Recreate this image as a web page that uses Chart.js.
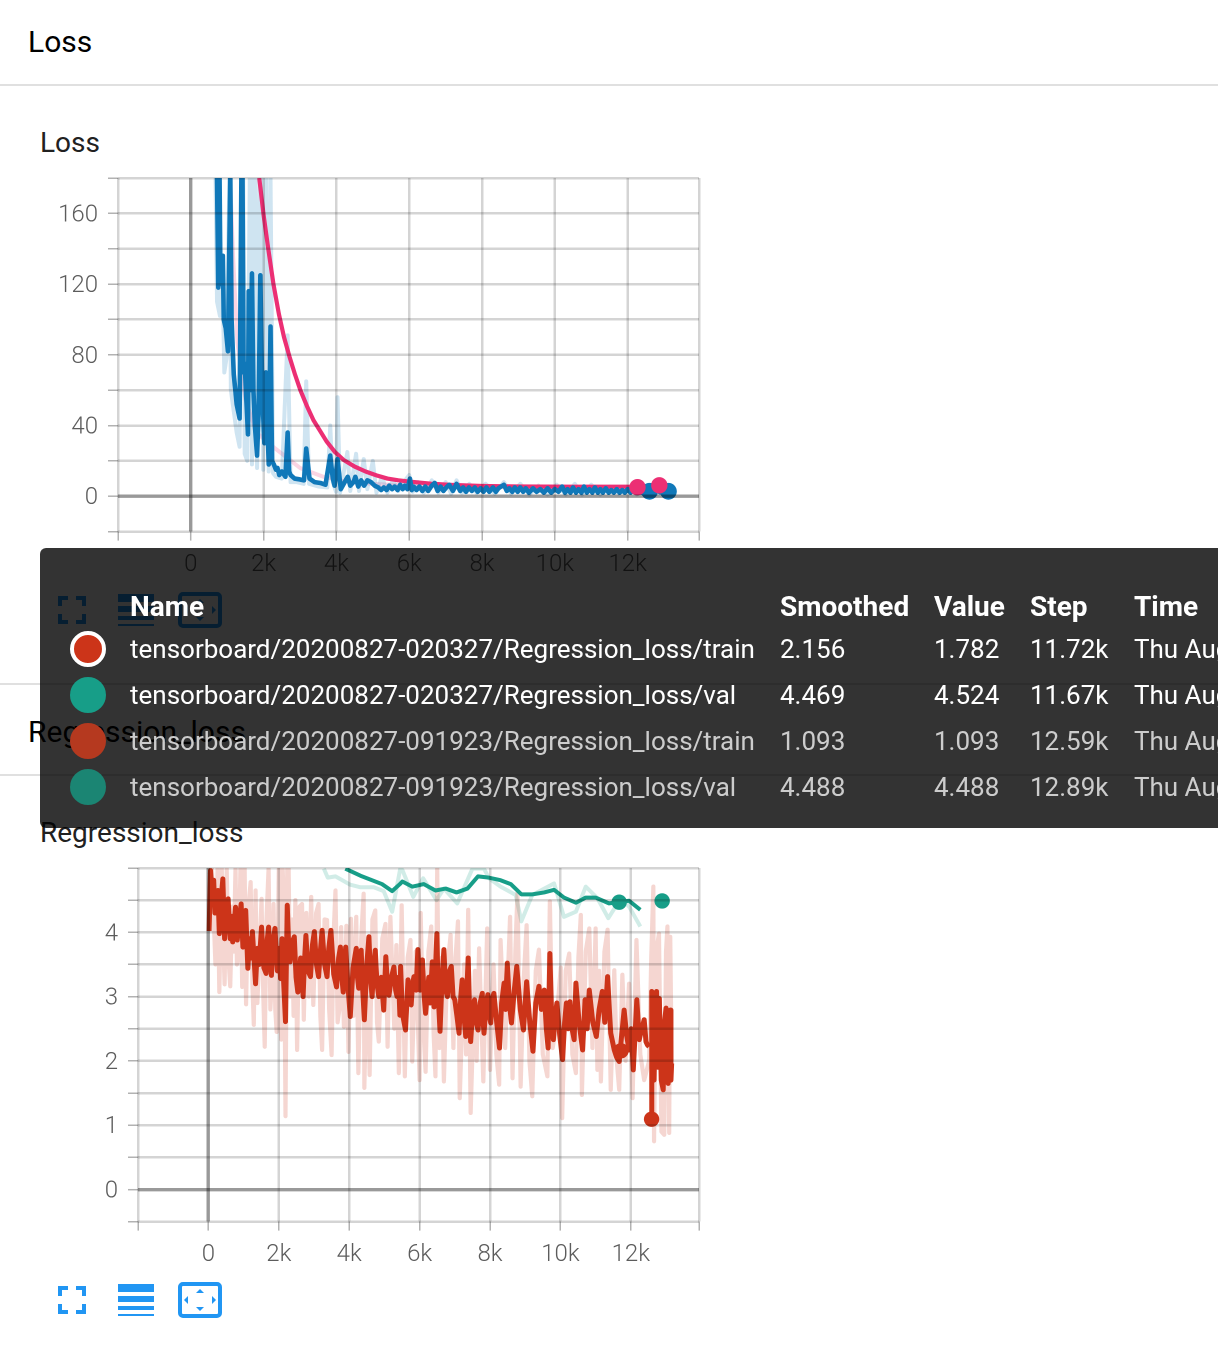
<!DOCTYPE html>
<html><head><meta charset="utf-8">
<script src="https://cdn.jsdelivr.net/npm/chart.js@4"></script>
<style>
html,body{margin:0;padding:0;background:#fff;width:1218px;height:1352px;overflow:hidden;font-family:Roboto,sans-serif;color:#000}
.abs{position:absolute;white-space:nowrap}
.rule{position:absolute;left:0;width:1218px;height:2px;background:#e0e0e0}
.h1{font-size:30px;line-height:34px}
.h2{font-size:28px;line-height:32px;color:#212121}
canvas{position:absolute;left:0}
#tip{position:absolute;left:40px;top:548px;width:1200px;height:280px;background:rgba(0,0,0,.8);border-radius:6px;color:#fff;font-size:26px;z-index:5}
#tip .c{position:absolute;white-space:nowrap;line-height:30px}
#tip .b{font-weight:700;font-size:28px}
#tip .m{position:absolute;left:30px;width:36px;height:36px;border-radius:50%;box-sizing:border-box}
</style></head><body>
<div class="abs h1" style="left:28px;top:25px">Loss</div>
<div class="rule" style="top:84px"></div>
<div class="abs h2" style="left:40px;top:127px">Loss</div>
<canvas id="lossChart" width="720" height="430" style="top:160px"></canvas>
<svg class="icons" style="position:absolute;left:0;top:590px" width="240" height="42" viewBox="0 0 240 42"><use href="#ico"/></svg>
<div class="rule" style="top:683px"></div>
<div class="abs h1" style="left:28px;top:715px">Regression_loss</div>
<div class="rule" style="top:774px"></div>
<div class="abs h2" style="left:40px;top:817px">Regression_loss</div>
<canvas id="regChart" width="720" height="430" style="top:850px"></canvas>
<svg style="position:absolute;left:0;top:1280px" width="240" height="42" viewBox="0 0 240 42">
<g id="ico" fill="#2196f3">
<path d="M58 6h10v4h-6v6h-4zM76 6h10v10h-4v-6h-6zM58 24h4v6h6v4h-10zM82 24h4v10h-10v-4h6z"/>
<rect x="118" y="4" width="36" height="8"/><rect x="118" y="16" width="36" height="6"/><rect x="118" y="26" width="36" height="4"/><rect x="118" y="34" width="36" height="2"/>
<rect x="180" y="4" width="40" height="32" rx="3" fill="none" stroke="#2196f3" stroke-width="4"/>
<path d="M200 9l4 4h-8zM200 31l-4-4h8zM184 20l4-4v8zM216 20l-4-4v8z"/>
</g></svg>
<div id="tip"></div>
<script>
const seriesNames=["tensorboard/20200827-020327/Regression_loss/train","tensorboard/20200827-020327/Regression_loss/val","tensorboard/20200827-091923/Regression_loss/train","tensorboard/20200827-091923/Regression_loss/val"];
const smoothedCol=["2.156","4.469","1.093","4.488"];
const valueCol=["1.782","4.524","1.093","4.488"];
const stepCol=["11.72k","11.67k","12.59k","12.89k"];
const timeCol=["Thu Aug","Thu Aug","Thu Aug","Thu Aug"];
const headers=["Name","Smoothed","Value","Step","Time"];
const xTickValues=[-2000,0,2000,4000,6000,8000,10000,12000];
const lossYLabels=[160,120,80,40,0];
const regYLabels=[4,3,2,1,0];

const pinkSmooth=[[1880,180],[2000,159],[2120,141],[2270,120],[2420,103],[2560,90],[2710,79],[2860,69],[3010,60],[3190,51],[3370,43],[3550,37],[3730,31],[3960,25],[4200,20.5],[4500,16.8],[4800,14],[5100,11.8],[5400,10],[5700,9],[6000,8.3],[6600,7.1],[7200,6.4],[8000,5.8],[9000,5.5],[10500,5.4],[12000,5.4],[12270,5.2]];
const pinkRaw=[[1080,180],[1160,136],[1280,87],[1500,55],[1800,36],[2320,27],[3000,16],[3640,11],[4200,8.5],[5000,7],[6000,6],[8000,5.5],[10000,5],[12270,5]];
const blueSmooth=[[720,180],[755,118],[790,180],[815,120],[880,136],[905,100],[960,95],[1020,82],[1085,182],[1120,100],[1180,69],[1260,52],[1300,48],[1340,44],[1390,182],[1420,182],[1450,70],[1480,75],[1570,35],[1590,116],[1630,60],[1680,126],[1720,60],[1760,40],[1820,23],[1860,45],[1910,125],[1960,60],[2020,30],[2060,70],[2140,18],[2190,96],[2230,20],[2280,18],[2340,15],[2380,16],[2430,12],[2500,14],[2600,11],[2660,36],[2700,14],[2740,12],[2850,10],[3000,9.5],[3110,9],[3170,27],[3260,10],[3400,8],[3560,7.5],[3700,6.5],[3830,23],[3900,10],[3950,6],[4030,21],[4120,4],[4200,7],[4310,11],[4380,6],[4470,8],[4520,11],[4600,5.5],[4680,9],[4760,6],[4850,9],[4950,8],[5050,6],[5150,5],[5230,3.5],[5300,5],[5380,3.5],[5450,6],[5530,4],[5600,5.5],[5680,3.5],[5750,6.5],[5820,4],[5880,6],[5950,4],[6020,10],[6070,3.5],[6120,5.5],[6200,3.5],[6280,5.5],[6360,3],[6440,5.5],[6520,3],[6620,6],[6700,7.5],[6780,3],[6860,5.5],[6940,3],[7020,5],[7100,6.5],[7200,3],[7300,7],[7400,3],[7480,5],[7560,2.5],[7640,5],[7720,3],[7800,5],[7880,2.5],[7960,4.5],[8040,2.5],[8120,5],[8200,2.5],[8300,5],[8380,2.5],[8450,4.5],[8600,6.5],[8680,3],[8750,4.5],[8830,2.5],[8900,5],[8980,2.5],[9050,5],[9130,2.5],[9200,4.5],[9290,2],[9400,4.5],[9500,2.5],[9600,4],[9700,2],[9800,4.5],[9900,2],[10000,4],[10100,2.5],[10200,5.5],[10280,2],[10350,4],[10430,2],[10500,5],[10580,2],[10650,4],[10730,2],[10800,5.5],[10880,2],[10950,4],[11030,2],[11100,5],[11180,2],[11250,4],[11320,2],[11400,4.5],[11480,2],[11550,3.5],[11620,2],[11700,4],[11780,2],[11850,3.5],[11920,2],[12000,4],[12080,2],[12150,3.5],[12230,2],[12300,4],[12380,2],[12450,3.5],[12530,2.2],[12600,3],[12700,2],[12800,3.2],[12900,2.2],[13000,3.5],[13120,2.8]];
const blueRaw=[[680,180],[720,110],[800,102],[860,135],[920,70],[980,78],[1060,180],[1100,60],[1180,48],[1260,36],[1340,28],[1400,180],[1440,180],[1480,24],[1550,20],[1620,180],[1650,180],[1680,18],[1740,180],[1780,180],[1820,16],[1900,180],[1950,180],[1990,15],[2070,180],[2140,14],[2190,180],[2260,13],[2340,11],[2500,10],[2660,91],[2740,8],[2900,8],[3100,7],[3170,65],[3250,7],[3500,5.5],[3750,5],[3830,40],[3900,8],[3990,2.5],[4030,56],[4100,2],[4300,25],[4380,3],[4540,24],[4620,3],[4750,21],[4850,4],[5000,20],[5100,2],[5250,11],[5400,2],[5550,9],[5700,3],[5850,8],[6000,12],[6100,2.5],[6250,8],[6400,2],[6620,9],[6800,2],[7000,8],[7150,1.5],[7300,9],[7450,2],[7650,7],[7850,2],[8100,7],[8350,1.5],[8600,8],[8800,1.5],[9050,7],[9300,1],[9550,6],[9800,1],[10050,6.5],[10300,1],[10550,7],[10750,1],[11000,6.5],[11250,1],[11500,5.5],[11750,1.5],[12000,5],[12250,1],[12500,4.5],[12800,1.5],[13120,4]];
const pinkMarkers=[[12270,5.1],[12870,6.2]];
const blueMarkers=[[12600,2.8],[13120,2.8]];

const redSmooth=[[20,4.02],[60,4.96],[105,4.6],[150,4.81],[185,4.3],[220,4.44],[270,4.65],[310,3.98],[360,4.5],[410,4.83],[460,3.9],[510,4.35],[560,4.52],[620,3.9],[650,4.25],[690,3.85],[735,4.15],[770,4.39],[820,3.88],[875,4.2],[930,4.44],[980,3.77],[1020,4.1],[1060,4.34],[1120,3.44],[1170,3.9],[1210,3.6],[1250,4.01],[1340,3.2],[1390,3.75],[1440,3.5],[1510,4.08],[1575,3.45],[1640,3.36],[1675,3.9],[1710,4.08],[1790,3.33],[1840,3.85],[1890,4.06],[1960,3.4],[2010,3.75],[2050,3.28],[2090,3.9],[2140,3.2],[2190,2.61],[2240,4.42],[2280,3.8],[2320,3.54],[2380,3.85],[2440,3.93],[2490,3.3],[2540,3.07],[2620,3.6],[2690,3.0],[2730,3.55],[2770,3.95],[2830,3.4],[2900,3.31],[2955,3.8],[3010,4.01],[3070,3.5],[3130,3.31],[3180,3.7],[3230,4.03],[3300,3.5],[3370,3.31],[3420,3.75],[3480,4.03],[3560,3.35],[3640,3.15],[3700,3.6],[3750,3.77],[3790,3.3],[3830,3.07],[3865,3.5],[3900,3.77],[3960,3.2],[4030,2.69],[4110,3.45],[4200,3.75],[4235,3.3],[4270,3.13],[4305,3.5],[4340,3.72],[4385,3.1],[4430,2.64],[4500,3.5],[4560,3.93],[4605,3.3],[4650,3.0],[4700,3.5],[4740,3.72],[4790,3.2],[4840,3.0],[4910,3.3],[4980,2.79],[5040,3.62],[5085,3.2],[5130,3.02],[5200,3.3],[5270,3.46],[5320,3.1],[5360,3.0],[5400,3.3],[5440,2.71],[5460,3.47],[5510,2.74],[5600,2.48],[5670,3.26],[5720,2.9],[5760,2.87],[5800,3.2],[5840,3.31],[5900,3.1],[5950,3.73],[6010,3.1],[6080,3.57],[6130,3.0],[6170,2.74],[6260,3.3],[6300,2.9],[6360,3.54],[6410,2.84],[6450,3.4],[6490,3.98],[6530,3.0],[6580,2.46],[6640,3.3],[6690,3.73],[6740,3.1],[6790,3.0],[6850,3.4],[6900,3.47],[6950,3.0],[7000,2.95],[7060,2.7],[7120,2.43],[7170,3.0],[7210,3.26],[7260,2.7],[7310,2.38],[7350,3.2],[7380,3.6],[7420,2.8],[7450,2.3],[7510,2.8],[7560,2.95],[7610,2.6],[7660,2.48],[7720,2.9],[7780,3.05],[7805,2.6],[7830,2.43],[7890,2.9],[7940,3.03],[7980,2.7],[8020,2.59],[8060,2.95],[8110,3.05],[8190,2.6],[8270,2.2],[8330,2.9],[8400,3.21],[8440,2.8],[8490,3.52],[8550,2.9],[8610,2.59],[8690,3.1],[8760,3.47],[8860,2.8],[8950,2.48],[9000,2.9],[9040,3.23],[9130,2.6],[9220,2.15],[9300,2.9],[9390,3.16],[9460,2.8],[9540,3.1],[9600,2.5],[9650,2.2],[9700,3.67],[9750,2.7],[9800,2.33],[9850,2.7],[9900,2.9],[9980,2.4],[10060,2.02],[10120,2.6],[10170,2.9],[10220,2.5],[10270,2.92],[10330,2.5],[10390,2.33],[10440,3.21],[10530,2.6],[10630,2.17],[10670,2.6],[10700,2.95],[10760,2.5],[10820,3.1],[10920,2.6],[11020,2.38],[11100,2.8],[11190,3.08],[11260,2.6],[11340,3.31],[11390,2.8],[11430,2.43],[11530,2.17],[11600,2.05],[11670,1.99],[11740,2.4],[11810,2.79],[11880,2.4],[11950,2.17],[12010,2.5],[12070,1.86],[12120,2.4],[12170,2.95],[12240,2.33],[12310,2.5],[12380,2.64],[12430,2.3],[12470,2.25],[12520,2.22]];
const redSmoothB=[[12590,1.093],[12595,3.08],[12630,2.2],[12660,1.7],[12695,2.7],[12730,3.08],[12770,1.9],[12810,2.97],[12865,1.7],[12920,1.55],[12960,2.6],[13000,2.82],[13030,1.8],[13060,1.65],[13090,2.7],[13120,2.79],[13140,1.7],[13160,1.96]];
const redRaw=[[30,4.9],[100,4.99],[200,3.5],[260,4.99],[310,3.07],[380,4.99],[420,3.9],[460,3.19],[520,4.99],[570,3.6],[620,3.16],[680,4.4],[720,3.7],[770,4.99],[810,3.5],[860,3.6],[910,4.99],[960,3.15],[1030,4.99],[1070,2.88],[1120,4.3],[1200,4.78],[1250,3.2],[1290,2.56],[1340,4.65],[1390,2.9],[1430,3.4],[1510,4.52],[1560,3.0],[1600,2.22],[1650,4.2],[1710,4.99],[1760,2.8],[1800,3.2],[1850,4.44],[1900,2.8],[1940,2.45],[2000,4.99],[2030,3.2],[2070,2.33],[2110,4.99],[2150,4.3],[2190,1.14],[2240,4.99],[2280,4.99],[2320,3.0],[2370,4.2],[2420,2.7],[2470,4.5],[2520,2.17],[2590,4.4],[2660,4.44],[2710,2.64],[2780,4.3],[2850,3.0],[2920,4.55],[2980,2.87],[3060,4.3],[3130,4.44],[3180,2.7],[3230,2.17],[3300,4.2],[3370,4.19],[3430,2.8],[3500,2.09],[3560,4.0],[3610,4.65],[3670,2.6],[3720,2.8],[3770,4.08],[3850,2.53],[3920,4.1],[3980,2.14],[4050,4.21],[4120,2.7],[4200,4.24],[4260,1.81],[4340,3.9],[4410,4.6],[4430,1.58],[4520,3.9],[4580,1.78],[4660,4.2],[4740,4.34],[4790,2.6],[4840,2.3],[4940,3.9],[5030,4.13],[5090,2.22],[5170,4.24],[5280,2.5],[5340,3.8],[5410,1.81],[5490,4.42],[5580,1.76],[5660,3.6],[5740,3.88],[5790,1.99],[5890,3.7],[6000,1.7],[6030,4.3],[6100,2.6],[6170,1.83],[6250,3.7],[6330,4.09],[6400,2.4],[6450,1.76],[6500,4.99],[6560,2.2],[6620,3.6],[6690,1.68],[6780,3.4],[6880,3.96],[6960,2.2],[7020,3.6],[7090,4.17],[7140,1.42],[7260,3.5],[7320,2.1],[7380,4.35],[7450,1.19],[7570,3.4],[7620,2.0],[7690,3.75],[7810,1.68],[7920,4.06],[8000,1.86],[8100,3.5],[8180,2.1],[8260,1.63],[8300,3.88],[8430,2.2],[8570,4.24],[8640,1.73],[8720,3.7],[8780,4.61],[8870,1.6],[8960,3.3],[9040,4.11],[9120,2.0],[9200,1.45],[9300,3.4],[9390,3.73],[9500,2.1],[9630,1.76],[9700,4.48],[9780,2.2],[9870,2.5],[10010,3.45],[10050,1.11],[10150,3.4],[10250,3.67],[10340,2.1],[10440,1.81],[10510,3.6],[10580,4.27],[10610,1.47],[10720,3.7],[10820,4.06],[10910,2.2],[11000,4.06],[11050,1.86],[11100,3.4],[11150,1.68],[11250,3.7],[11340,4.04],[11430,1.55],[11530,3.41],[11600,2.0],[11670,1.55],[11760,3.34],[11850,2.0],[11950,3.2],[12050,1.42],[12160,3.88],[12270,2.1],[12380,1.7],[12520,2.0],[12580,3.6],[12640,4.71],[12660,0.75],[12720,3.7],[12800,3.98],[12870,0.9],[12950,0.85],[13000,3.7],[13040,4.09],[13090,0.88],[13120,3.93],[13160,2.0]];
const tealSmooth=[[3890,4.99],[4320,4.88],[4930,4.75],[5220,4.64],[5440,4.75],[5510,4.79],[5790,4.71],[6120,4.75],[6450,4.65],[6740,4.68],[7050,4.62],[7360,4.68],[7660,4.87],[7970,4.85],[8300,4.81],[8590,4.75],[8890,4.59],[9200,4.59],[9540,4.62],[9820,4.66],[10100,4.54],[10440,4.46],[10720,4.54],[11000,4.54],[11380,4.45],[11670,4.47],[11950,4.49],[12270,4.35]];
const tealRaw=[[3280,4.99],[3390,4.85],[3610,4.87],[4030,4.74],[4320,4.7],[4700,4.7],[4980,4.64],[5220,4.32],[5450,4.99],[5510,4.97],[5820,4.55],[6100,4.84],[6480,4.5],[6690,4.68],[7070,4.45],[7500,4.99],[7830,4.99],[7970,4.84],[8300,4.71],[8730,4.58],[8890,4.17],[9200,4.58],[9820,4.76],[10100,4.24],[10440,4.32],[10720,4.71],[11050,4.53],[11360,4.22],[11720,4.53],[11950,4.4],[12270,4.09]];
const redMarkers=[[11720,2.156],[12590,1.093]];
const tealMarkers=[[11670,4.469],[12890,4.488]];

const PINK='#ec2f74',BLUE='#1078b9',RED='#cc3419',TEAL='#179e88';
const toXY=a=>a.map(p=>({x:p[0],y:p[1]}));
const line=(data,color,width)=>({type:'line',data:toXY(data),borderColor:color,borderWidth:width,pointRadius:0,tension:0,fill:false,borderJoinStyle:'round'});
const dots=(data,color,r)=>({type:'line',data:toXY(data),showLine:false,pointRadius:r,pointBackgroundColor:color,pointBorderWidth:0,clip:false});
const tickFont={family:'Roboto',size:24,weight:'300'};
const gridW=c=>c.tick&&c.tick.value===0?3.4:2.5;
const gridC=c=>c.tick&&c.tick.value===0?'rgba(0,0,0,.4)':'rgba(0,0,0,.17)';
function makeChart(id,datasets,o){
  new Chart(document.getElementById(id),{
    type:'line',data:{datasets},
    options:{responsive:false,animation:false,devicePixelRatio:2,
      layout:{padding:{top:18,right:21,left:0,bottom:0}},
      plugins:{legend:{display:false},tooltip:{enabled:false}},
      scales:{
        x:{type:'linear',min:-2000,max:o.xMax,
          afterBuildTicks:s=>{s.ticks=xTickValues.concat([o.xMax]).map(v=>({value:v}))},
          afterFit:s=>{s.height=58.4;s.paddingLeft=0;s.paddingRight=0},
          border:{display:false},
          grid:{z:1,lineWidth:gridW,color:gridC,tickLength:9,tickColor:'rgba(0,0,0,.3)',tickWidth:1.5},
          ticks:{autoSkip:false,maxRotation:0,padding:10,font:tickFont,color:'#5c5c5c',
            callback:v=>(v<0||v===o.xMax)?'':(v===0?'0':(v/1000)+'k')}},
        y:{min:o.yMin,max:o.yMax,
          afterFit:s=>{s.width=o.left;s.paddingTop=0;s.paddingBottom=0},
          border:{display:false},
          grid:{z:1,lineWidth:gridW,color:gridC,tickLength:10,tickColor:'rgba(0,0,0,.3)',tickWidth:1.5},
          ticks:{stepSize:o.yStep,autoSkip:false,padding:10,labelOffset:2,font:tickFont,color:'#5c5c5c',
            callback:v=>o.labels.includes(v)?String(v):''}}
      }
    }
  });
}
makeChart('lossChart',[
  dots(pinkMarkers,PINK,8.2),dots(blueMarkers,BLUE,8.4),
  line(blueSmooth,BLUE,4.6),line(pinkSmooth,PINK,4.2),
  line(blueRaw,'rgba(16,120,185,.2)',4),line(pinkRaw,'rgba(236,47,116,.2)',4)
],{xMax:13960,yMin:-20,yMax:180,yStep:20,left:118,labels:lossYLabels});
makeChart('regChart',[
  dots(redMarkers,RED,7.7),dots(tealMarkers,TEAL,7.7),
  line(redSmoothB,RED,5),line(redSmooth,RED,5),line(tealSmooth,TEAL,4),
  line(redRaw,'rgba(204,52,25,.2)',4.2),line(tealRaw,'rgba(23,158,136,.2)',4)
],{xMax:13937,yMin:-0.5,yMax:5,yStep:0.5,left:138,labels:regYLabels});

const tip=document.getElementById('tip');
const cols=[90,740,894,990,1094];
const rowY=[44,86,132,178,224];
const put=(x,y,t,cls,extra)=>{const d=document.createElement('div');d.className='c '+(cls||'');d.style.left=x+'px';d.style.top=y+'px';d.textContent=t;if(extra)d.style.cssText+=extra;tip.appendChild(d);};
headers.forEach((h,i)=>put(cols[i],rowY[0],h,'b'));
const markerCols=['#cc3419','#179e88','#b5391f','#1b8573'];
seriesNames.forEach((n,i)=>{
  const dim=i>=2?'color:#ccc;':'';
  put(cols[0],rowY[i+1],n,'',dim);
  put(cols[1],rowY[i+1],smoothedCol[i],'',dim);
  put(cols[2],rowY[i+1],valueCol[i],'',dim);
  put(cols[3],rowY[i+1],stepCol[i],'',dim);
  put(cols[4],rowY[i+1],timeCol[i],'',dim);
  const m=document.createElement('div');m.className='m';
  m.style.top=(rowY[i+1]-3)+'px';m.style.background=markerCols[i];
  if(i===0)m.style.border='4px solid #fff';
  tip.appendChild(m);
});
</script>
</body></html>
